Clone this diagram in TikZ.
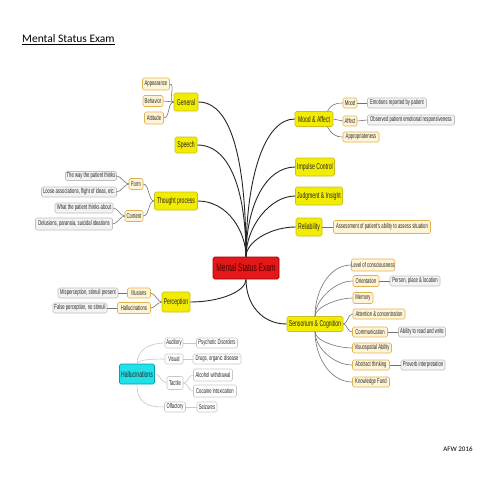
\documentclass[tikz,border=0pt]{standalone}
\usepackage{fontspec}
\newfontfamily\narfont{Liberation Sans}[FakeStretch=0.6]
\newfontfamily\calfont{Carlito}
\definecolor{yel}{RGB}{242,236,0}
\definecolor{yelb}{RGB}{205,192,30}
\definecolor{cream}{RGB}{255,245,214}
\definecolor{gold}{RGB}{226,178,80}
\definecolor{lgray}{RGB}{243,243,243}
\definecolor{mgray}{RGB}{190,190,190}
\definecolor{hgray}{RGB}{200,200,200}
\definecolor{txt}{RGB}{40,40,40}
\definecolor{redf}{RGB}{228,24,24}
\definecolor{redb}{RGB}{160,0,0}
\definecolor{redt}{RGB}{70,0,0}
\definecolor{cyanf}{RGB}{32,224,232}
\definecolor{cyanb}{RGB}{0,160,176}
\begin{document}
\begin{tikzpicture}[x=1pt,y=1pt,
  base/.style={rounded corners=1.5pt, inner sep=0pt, align=center, line width=0.6pt},
  sz/.style 2 args={minimum width=#1, minimum height=#2},
  mainnode/.style={base, fill=yel, draw=yelb, text=txt, font=\narfont\fontsize{8.5}{9}\selectfont},
  centernode/.style={base, fill=redf, draw=redb, text=redt, font=\narfont\fontsize{11}{12}\selectfont},
  cyannode/.style={base, fill=cyanf, draw=cyanb, text=txt, font=\narfont\fontsize{8.5}{9}\selectfont},
  subnode/.style={base, fill=cream, draw=gold, text=txt, font=\narfont\fontsize{7}{8}\selectfont},
  leafnode/.style={base, fill=lgray, draw=mgray, text=txt, font=\narfont\fontsize{7}{8}\selectfont},
  hnode/.style={base, fill=white, draw=hgray, text=txt, font=\narfont\fontsize{7}{8}\selectfont},
  mainline/.style={draw=black!85, line width=0.9pt},
  subline/.style={draw=black!55, line width=0.6pt},
  hline/.style={draw=black!22, line width=0.6pt}
]
\fill[white] (0,0) rectangle (495,-495);
\useasboundingbox (0,0) rectangle (495,-495);

% title and footer
\node[font=\calfont\fontsize{11.5}{13}\selectfont, anchor=west, inner sep=0pt] (title) at (22,-40) {\underline{Mental Status Exam}};
\node[font=\calfont\fontsize{7}{8}\selectfont, inner sep=0pt] (afw) at (458,-449) {AFW 2016};

% center
\node[centernode, sz={66}{22}] (c) at (246,-268) {Mental Status Exam};

% main nodes
\node[mainnode, sz={24}{18}] (gen) at (186,-102) {General};
\node[mainnode, sz={22}{16}] (speech) at (186,-145) {Speech};
\node[mainnode, sz={43}{18}] (tp) at (176,-201) {Thought process};
\node[mainnode, sz={38}{15}] (ma) at (314,-119) {Mood \& Affect};
\node[mainnode, sz={39}{18}] (imp) at (315,-167) {Impulse Control};
\node[mainnode, sz={47}{18}] (jud) at (319,-196) {Judgment \& Insight};
\node[mainnode, sz={26}{18}] (rel) at (309,-227) {Reliability};
\node[mainnode, sz={28}{20}] (perc) at (176,-302) {Perception};
\node[mainnode, sz={56}{15}] (sens) at (315,-324) {Sensorium \& Cognition};
\node[cyannode, sz={35}{20}] (hal) at (137,-374) {Hallucinations};

% General
\node[subnode, sz={27}{12}] (app) at (156,-84) {Appearance};
\node[subnode, sz={20}{11}] (beh) at (153,-101) {Behavior};
\node[subnode, sz={19}{12}] (att) at (154,-118) {Attitude};

% Mood & Affect
\node[subnode, sz={14}{10}] (mood) at (350,-103) {Mood};
\node[subnode, sz={14}{10}] (aff) at (350,-121) {Affect};
\node[subnode, sz={36}{10}] (appr) at (361,-137) {Appropriateness};
\node[leafnode, sz={59}{10}] (emo) at (397,-103) {Emotions reported by patient};
\node[leafnode, sz={87}{10}] (obs) at (411,-120) {Observed patient emotional responsiveness};

% Reliability
\node[subnode, sz={97}{13}] (assess) at (382,-227) {Assessment of patient's ability to assess situation};

% Thought process
\node[subnode, sz={14}{11}] (form) at (136,-184) {Form};
\node[subnode, sz={18}{11}] (cont) at (134,-216) {Content};
\node[leafnode, sz={51}{9}] (way) at (91,-176) {The way the patient thinks};
\node[leafnode, sz={75}{10}] (loose) at (79,-192) {Loose associations, flight of ideas, etc.};
\node[leafnode, sz={58}{10}] (what) at (84,-208) {What the patient thinks about};
\node[leafnode, sz={77}{12}] (delu) at (74,-224) {Delusions, paranoia, suicidal ideations};

% Perception
\node[subnode, sz={23}{10}] (ill) at (139,-293) {Illusions};
\node[subnode, sz={33}{11}] (phal) at (134,-308) {Hallucinations};
\node[leafnode, sz={60}{10}] (mis) at (88,-293) {Misperception, stimuli present};
\node[leafnode, sz={54}{10}] (false) at (80,-308) {False perception, no stimuli};

% Sensorium & Cognition
\node[subnode, sz={40}{12}] (loc) at (373,-265) {Level of consciousness};
\node[subnode, sz={26}{11}] (ori) at (366,-281) {Orientation};
\node[subnode, sz={20}{11}] (mem) at (363,-298) {Memory};
\node[subnode, sz={52}{10}] (atc) at (379,-314) {Attention \& concentration};
\node[subnode, sz={35}{10}] (com) at (370,-332) {Communication};
\node[subnode, sz={39}{10}] (vsa) at (372,-348) {Visuospatial Ability};
\node[subnode, sz={37}{10}] (abs) at (371,-365) {Abstract thinking};
\node[subnode, sz={37}{10}] (kf) at (371,-382) {Knowledge Fund};
\node[leafnode, sz={50}{10}] (ppl) at (415,-281) {Person, place \& location};
\node[leafnode, sz={47}{10}] (arw) at (422,-332) {Ability to read and write};
\node[leafnode, sz={44}{10}] (pro) at (423,-365) {Proverb interpretation};

% Hallucinations cluster
\node[hnode, sz={18}{10}] (aud) at (174,-343) {Auditory};
\node[hnode, sz={18}{10}] (vis) at (174,-359) {Visual};
\node[hnode, sz={16}{13}] (tac) at (175,-383) {Tactile};
\node[hnode, sz={21}{10}] (olf) at (175,-407) {Olfactory};
\node[hnode, sz={41}{10}] (psy) at (217,-343) {Psychotic Disorders};
\node[hnode, sz={48}{10}] (drg) at (217,-359) {Drugs, organic disease};
\node[hnode, sz={39}{12}] (alc) at (213,-375) {Alcohol withdrawal};
\node[hnode, sz={43}{12}] (coc) at (215,-391) {Cocaine intoxication};
\node[hnode, sz={20}{10}] (sei) at (207,-407) {Seizures};

% main connectors
\draw[mainline] (c.north) .. controls +(0,90) and +(35,0) .. (gen.east);
\draw[mainline] (c.north) .. controls +(0,60) and +(35,0) .. (speech.east);
\draw[mainline] (c.north) .. controls +(0,25) and +(30,0) .. (tp.east);
\draw[mainline] (c.north) .. controls +(0,80) and +(-30,0) .. (ma.west);
\draw[mainline] (c.north) .. controls +(0,50) and +(-30,0) .. (imp.west);
\draw[mainline] (c.north) .. controls +(0,30) and +(-25,0) .. (jud.west);
\draw[mainline] (c.north) .. controls +(0,15) and +(-25,0) .. (rel.west);
\draw[mainline] (c.south) .. controls +(0,-12) and +(30,0) .. (perc.east);
\draw[mainline] (c.south) .. controls +(0,-25) and +(-25,0) .. (sens.west);

% General
\foreach \n in {app,beh,att}
  \draw[subline] (gen.west) .. controls +(-6,0) and +(6,0) .. (\n.east);
% Mood & Affect
\draw[subline] (ma.30) .. controls +(3,6) and +(-8,0) .. (mood.west);
\draw[subline] (ma.east) -- (aff.west);
\draw[subline] (ma.-30) .. controls +(3,-6) and +(-8,0) .. (appr.west);
\draw[subline] (mood.east) -- (emo.west);
\draw[subline] (aff.east) -- (obs.west);
% Reliability
\draw[subline] (rel.east) -- (assess.west);
% Thought process
\draw[subline] (tp.west) .. controls +(-6,0) and +(6,0) .. (form.east);
\draw[subline] (tp.west) .. controls +(-6,0) and +(6,0) .. (cont.east);
\draw[subline] (form.west) .. controls +(-4,0) and +(4,0) .. (way.east);
\draw[subline] (form.west) .. controls +(-4,0) and +(4,0) .. (loose.east);
\draw[subline] (cont.west) .. controls +(-4,0) and +(4,0) .. (what.east);
\draw[subline] (cont.west) .. controls +(-4,0) and +(4,0) .. (delu.east);
% Perception
\draw[subline] (perc.west) .. controls +(-4,0) and +(4,0) .. (ill.east);
\draw[subline] (perc.west) .. controls +(-4,0) and +(4,0) .. (phal.east);
\draw[subline] (ill.west) -- (mis.east);
\draw[subline] (phal.west) -- (false.east);
% Sensorium
\draw[subline] (sens.north) .. controls +(0,25) and +(-22,0) .. (loc.west);
\draw[subline] (sens.north) .. controls +(0,16) and +(-18,0) .. (ori.west);
\draw[subline] (sens.north) .. controls +(0,9) and +(-15,0) .. (mem.west);
\draw[subline] (sens.east) .. controls +(4,0) and +(-5,0) .. (atc.west);
\draw[subline] (sens.east) .. controls +(4,0) and +(-5,0) .. (com.west);
\draw[subline] (sens.south) .. controls +(0,-9) and +(-15,0) .. (vsa.west);
\draw[subline] (sens.south) .. controls +(0,-16) and +(-18,0) .. (abs.west);
\draw[subline] (sens.south) .. controls +(0,-25) and +(-22,0) .. (kf.west);
\draw[subline] (ori.east) -- (ppl.west);
\draw[subline] (com.east) -- (arw.west);
\draw[subline] (abs.east) -- (pro.west);
% Hallucinations cluster
\draw[hline] (hal.north) .. controls +(0,14) and +(-15,0) .. (aud.west);
\draw[hline] (hal.north) .. controls +(0,4) and +(-12,0) .. (vis.west);
\draw[hline] (hal.east) .. controls +(5,0) and +(-5,0) .. (tac.west);
\draw[hline] (hal.south) .. controls +(0,-20) and +(-15,0) .. (olf.west);
\draw[hline] (aud.east) -- (psy.west);
\draw[hline] (vis.east) -- (drg.west);
\draw[hline] (olf.east) -- (sei.west);
\draw[hline] (tac.east) .. controls +(5,0) and +(-5,0) .. (alc.west);
\draw[hline] (tac.east) .. controls +(5,0) and +(-5,0) .. (coc.west);
\end{tikzpicture}
\end{document}
